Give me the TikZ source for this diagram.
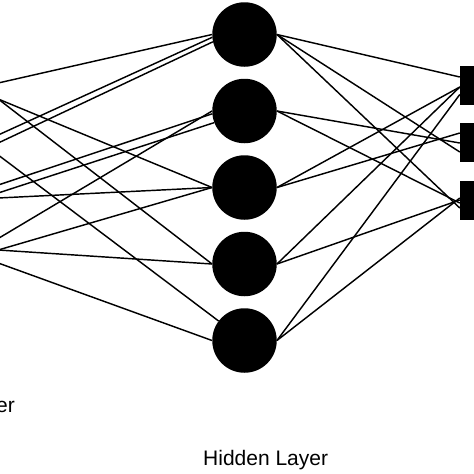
\documentclass[tikz,border=0pt]{standalone}
\usepackage{fontspec}
\setmainfont{Liberation Sans}
\usetikzlibrary{calc}
\begin{document}
\begin{tikzpicture}[x=1pt,y=-1pt,
  hid/.style={circle,fill=black,minimum size=64.5pt,inner sep=0pt},
  box/.style={rectangle,fill=black,minimum size=39pt,inner sep=0pt},
  link/.style={draw=black,line width=1.45pt},
  lbl/.style={font=\fontsize{21}{25}\selectfont,inner sep=0pt}]
\useasboundingbox (0,0) rectangle (474,474);
\fill[white] (0,0) rectangle (474,474);
\clip (0,0) rectangle (474,474);
% input layer (cut off at the left edge)
\node[box] (i1) at (-21.5,85.5) {};
\node[box] (i2) at (-21.5,142.5) {};
\node[box] (i3) at (-21.5,200.5) {};
\node[box] (i4) at (-21.5,257.5) {};
% hidden layer
\node[hid] (h1) at (244.5,34.5) {};
\node[hid] (h2) at (244.5,111) {};
\node[hid] (h3) at (244.5,187.5) {};
\node[hid] (h4) at (244.5,264) {};
\node[hid] (h5) at (244.5,340.5) {};
% output layer (cut off at the right edge)
\node[box] (o1) at (479.5,85.5) {};
\node[box] (o2) at (479.5,142.5) {};
\node[box] (o3) at (479.5,200.5) {};
% input -> hidden
\draw[link] ($(i1.east)+(0,-2.5)$) -- (h1.west);
\draw[link] ($(i1.east)+(0,13.5)$) -- (h3.west);
\draw[link] ($(i1.east)+(0,13.5)$) -- (h4.west);
\draw[link] ($(i2.east)+(0,-7.5)$) -- (h1.185);
\draw[link] ($(i2.east)+(0,0.5)$) -- (h1.193);
\draw[link] ($(i2.east)+(0,12.5)$) -- (h5);
\draw[link] ($(i3.east)+(0,-15.5)$) -- (h2.185);
\draw[link] ($(i3.east)+(0,-7.5)$) -- (h2.201);
\draw[link] ($(i3.east)+(0,-2.5)$) -- (h3.west);
\draw[link] ($(i4.east)+(0,-19)$) -- (h2.west);
\draw[link] ($(i4.east)+(0,-7.5)$) -- (h3.west);
\draw[link] ($(i4.east)+(0,-7.5)$) -- (h4.west);
\draw[link] ($(i4.east)+(0,5.5)$) -- (h5.west);
% hidden -> output
\draw[link] (h1.east) -- ($(o1.west)+(0,-8.5)$);
\draw[link] (h1.east) -- ($(o2.west)+(0,9.5)$);
\draw[link] (h1.east) -- ($(o3.west)+(0,7.5)$);
\draw[link] (h2.east) -- ($(o2.west)+(0,0.5)$);
\draw[link] (h2.east) -- ($(o3.west)+(0,2.5)$);
\draw[link] (h3.east) -- ($(o1.west)+(0,1.5)$);
\draw[link] (h3.east) -- ($(o2.west)+(0,-9.5)$);
\draw[link] (h4.east) -- ($(o1.west)+(0,1.5)$);
\draw[link] (h4.east) -- ($(o3.west)+(0,-0.5)$);
\draw[link] (h5.east) -- ($(o1.west)+(0,9)$);
\draw[link] (h5.east) -- ($(o3.west)+(0,-2.5)$);
% labels
\node[lbl,anchor=base east] (il) at (15,412) {Input Layer};
\node[lbl,anchor=base west] (hl) at (203,465) {Hidden Layer};
\end{tikzpicture}
\end{document}
